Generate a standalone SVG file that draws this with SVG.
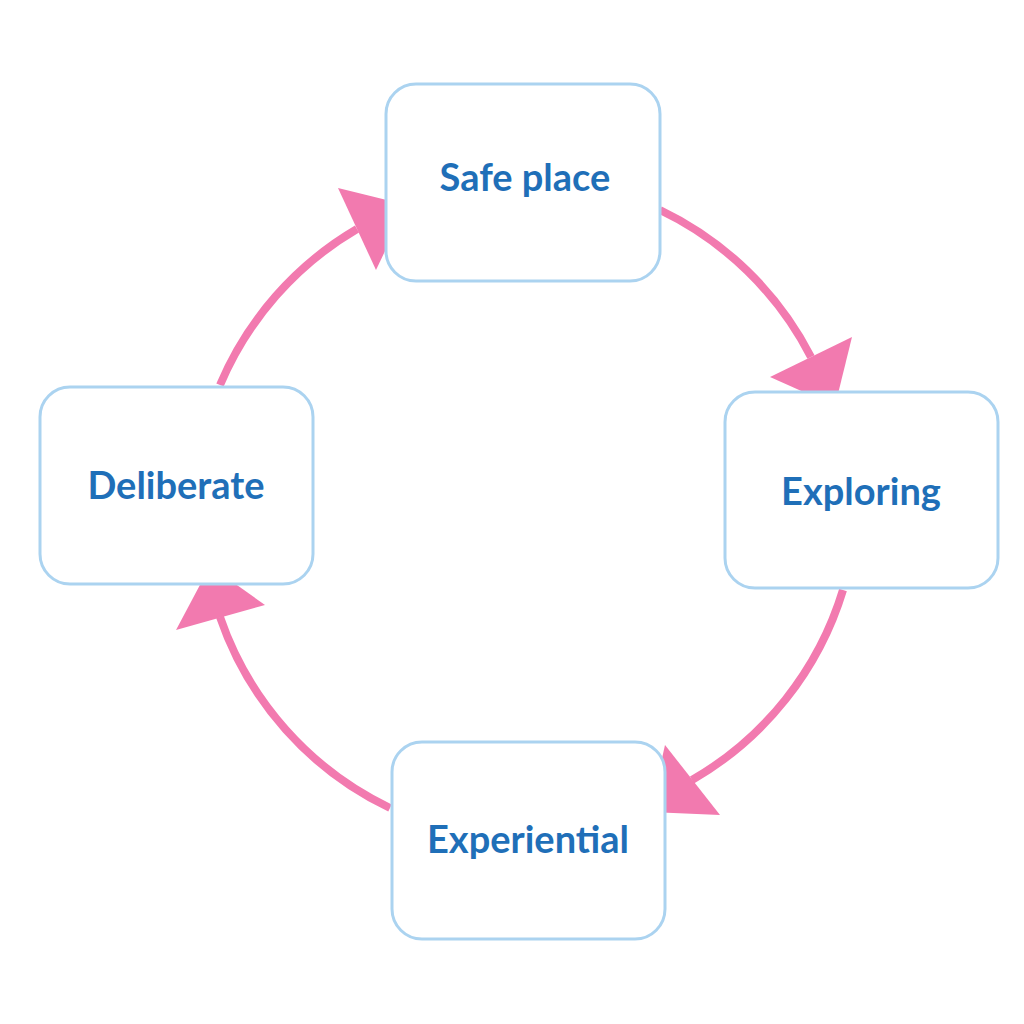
<svg xmlns="http://www.w3.org/2000/svg" width="1024" height="1024" viewBox="0 0 1024 1024">
<style>
.box{fill:#fff;stroke:#abd3f0;stroke-width:3}
.lbl{font-family:Lato,"Noto Sans",sans-serif;font-weight:bold;font-size:38px;fill:#1f6fb8;text-anchor:middle;dominant-baseline:central}
.arc{fill:none;stroke:#f27aaf;stroke-width:8}
.head{fill:#f27aaf}
</style>
<rect width="1024" height="1024" fill="#fff"/>
<g id="connectors">
<path class="arc" d="M660,210 A330,330 0 0 1 811,357"/>
<polygon class="head" points="852,337 770,377 835,406"/>
<path class="arc" d="M843,590 A330,330 0 0 1 692,780"/>
<polygon class="head" points="665,745 720,815 650,812"/>
<path class="arc" d="M390,808 A330,330 0 0 1 220,617"/>
<polygon class="head" points="176,630 265,605 210,566"/>
<path class="arc" d="M220,385 A330,330 0 0 1 357,229"/>
<polygon class="head" points="338,188 376,270 407,205"/>
</g>
<g id="safe"><rect class="box" x="386" y="84" width="274" height="197" rx="30"/><text class="lbl" x="525" y="176">Safe place</text></g>
<g id="exploring"><rect class="box" x="725" y="392" width="273" height="196" rx="30"/><text class="lbl" x="861" y="490">Exploring</text></g>
<g id="deliberate"><rect class="box" x="40" y="387" width="273" height="197" rx="30"/><text class="lbl" x="176" y="484">Deliberate</text></g>
<g id="experiential"><rect class="box" x="392" y="742" width="273" height="197" rx="30"/><text class="lbl" x="528" y="838">Experiential</text></g>
</svg>
